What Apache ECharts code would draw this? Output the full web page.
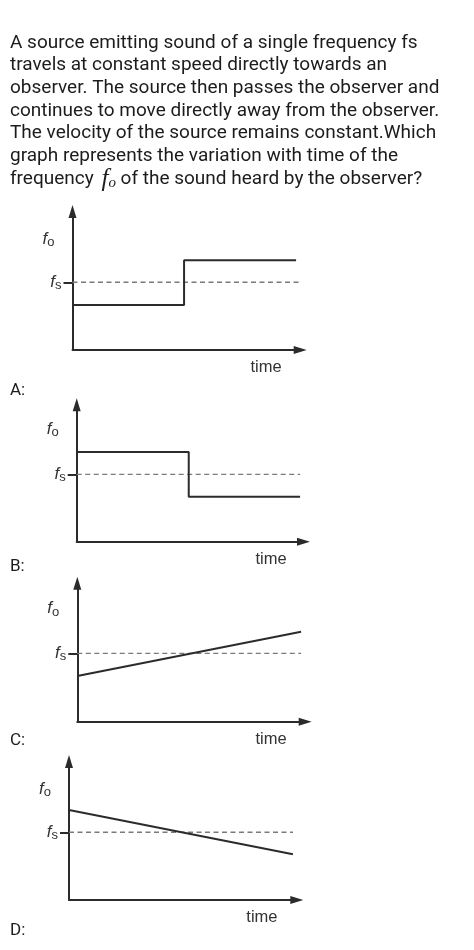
<!DOCTYPE html>
<html>
<head>
<meta charset="utf-8">
<script src="https://cdn.jsdelivr.net/npm/echarts@6/dist/echarts.min.js"></script>
<style>
html,body{margin:0;padding:0;background:#fff;}
#chart{width:474px;height:950px;}
</style>
</head>
<body>
<div id="chart"></div>
<script>
// ---- text content ----
const questionLines = [
  'A source emitting sound of a single frequency fs',
  'travels at constant speed directly towards an',
  'observer. The source then passes the observer and',
  'continues to move directly away from the observer.',
  'The velocity of the source remains constant.Which',
  'graph represents the variation with time of the',
  'frequency {m|f}{sub|o} of the sound heard by the observer?'
];
const optionLabels = ['A:', 'B:', 'C:', 'D:'];
const timeLabel = 'time';

// ---- data (time on x, frequency on y; axes run 0..10) ----
const seriesA = [[0, 3.25], [4.90, 6.48], [9.82, 6.48]];   // step up
const seriesB = [[0, 6.55], [4.94, 3.29], [9.85, 3.29]];   // step down
const seriesC = [[0, 3.30], [9.82, 6.50]];                 // rising line
const seriesD = [[0, 6.50], [9.83, 3.30]];                 // falling line
const fsValues = [4.89, 4.92, 4.94, 4.89];
const fsDashEnd = [10, 9.85, 9.82, 9.83];
const foLabelPos = [8.01, 8.23, 8.17, 8.01];
const timeLabelPos = [8.50, 8.57, 8.50, 8.47];

const mainSeries = [seriesA, seriesB, seriesC, seriesD];
const stepped = [true, true, false, false];

const grids = [
  {left: 72.5, top: 211.5, width: 227.7, height: 138.5},
  {left: 76.7, top: 404.8, width: 226.8, height: 136.9},
  {left: 77.3, top: 583.2, width: 227.9, height: 138.5},
  {left: 69.0, top: 761.5, width: 227.8, height: 138.5}
];
const optionLabelY = [391, 567, 741, 931];

const ink = '#2b2b2b';
const axisLineStyle = {
  show: true,
  symbol: ['none', 'triangle'],
  symbolSize: [8, 13],
  lineStyle: {color: ink, width: 2}
};

const xAxes = [], yAxes = [], series = [];
grids.forEach(function (g, i) {
  xAxes.push({
    type: 'value', gridIndex: i, min: 0, max: 10,
    axisLine: axisLineStyle,
    axisTick: {show: false},
    splitLine: {show: false},
    axisLabel: {
      customValues: [timeLabelPos[i]],
      formatter: function () { return timeLabel; },
      fontFamily: 'Liberation Sans', fontSize: 16.5, color: '#333', margin: 9
    }
  });
  const fs = fsValues[i];
  yAxes.push({
    type: 'value', gridIndex: i, min: 0, max: 10,
    axisLine: axisLineStyle,
    splitLine: {show: false},
    axisTick: {show: true, customValues: [fs], length: 9, lineStyle: {color: ink, width: 2}},
    axisLabel: {
      customValues: [fs, foLabelPos[i]],
      margin: 11,
      formatter: function (v) {
        return Math.abs(v - fs) < 1e-6 ? '{f|f}{s|s}' : '{f|f}{o|o}';
      },
      rich: {
        f: {fontFamily: 'Liberation Sans', fontStyle: 'italic', fontSize: 17, lineHeight: 20, color: '#333'},
        s: {fontFamily: 'Liberation Sans', fontSize: 13, lineHeight: 11, verticalAlign: 'bottom', color: '#333'},
        o: {fontFamily: 'Liberation Sans', fontSize: 13, lineHeight: 11, verticalAlign: 'bottom', color: '#333', padding: [0, 7, 0, 0]}
      }
    }
  });
  series.push({
    type: 'line', xAxisIndex: i, yAxisIndex: i,
    data: [[0, fs], [fsDashEnd[i], fs]],
    symbol: 'none', silent: true, z: 1,
    lineStyle: {color: '#7a7a7a', width: 1.3, type: [5, 3.5]}
  });
  series.push({
    type: 'line', xAxisIndex: i, yAxisIndex: i,
    data: mainSeries[i],
    step: stepped[i] ? 'end' : false,
    symbol: 'none', silent: true, z: 3,
    lineStyle: {color: ink, width: 2}
  });
});

const graphics = [];
questionLines.forEach(function (t, i) {
  graphics.push({
    type: 'text', x: 10, y: 0,
    style: {
      text: t, x: 0, y: 42.8 + i * 22.73,
      fontFamily: 'Roboto', fontSize: 19, fill: '#1c1c1c',
      verticalAlign: 'middle',
      rich: {
        m: {fontFamily: 'Liberation Serif', fontStyle: 'italic', fontSize: 25, fill: '#1c1c1c', lineHeight: 22, padding: [0, 0, 0, 3]},
        sub: {fontFamily: 'Liberation Serif', fontStyle: 'italic', fontSize: 15, fill: '#1c1c1c', lineHeight: 12, verticalAlign: 'bottom'}
      }
    }
  });
});
optionLabels.forEach(function (t, i) {
  graphics.push({
    type: 'text', x: 10, y: 0,
    style: {text: t, x: 0, y: optionLabelY[i], fontFamily: 'Roboto', fontSize: 17, fill: '#1c1c1c', verticalAlign: 'middle'}
  });
});

const chart = echarts.init(document.getElementById('chart'), null, {renderer: 'canvas'});
chart.setOption({
  animation: false,
  backgroundColor: '#ffffff',
  grid: grids,
  xAxis: xAxes,
  yAxis: yAxes,
  series: series,
  graphic: graphics
});
</script>
</body>
</html>
